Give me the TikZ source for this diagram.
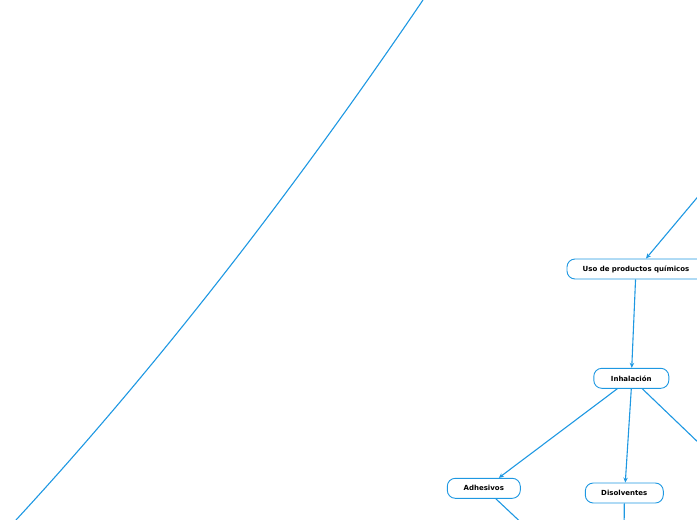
\documentclass[tikz,border=0pt]{standalone}
\usepackage{fontspec}
\setmainfont{DejaVu Sans}
\usetikzlibrary{arrows.meta}
\definecolor{bleucarte}{RGB}{30,152,226}

\begin{document}
\begin{tikzpicture}[x=1pt,y=-1pt,
    every node/.style={font=\bfseries\fontsize{7}{8}\selectfont},
    bulle/.style={draw=bleucarte,line width=0.9pt,fill=white,rounded corners=8pt,minimum height=20pt,inner sep=0pt},
    lien/.style={draw=bleucarte,line width=1.1pt,-{Stealth[length=5pt,width=4.5pt]}}]

\useasboundingbox (0,0) rectangle (697,520);
\clip (0,0) rectangle (697,520);
%%%%%%%%%%%%%%%%%%%%%%%%
%Les bulles de la carte
%%%%%%%%%%%%%%%%%%%%%%%%
    \node[bulle,minimum width=138pt] (uso) at (636,269) {Uso de productos químicos};
    \node[bulle,minimum width=75pt] (inhal) at (631.3,378.3) {Inhalación};
    \node[bulle,minimum width=73pt] (adhes) at (483.8,488.3) {Adhesivos};
    \node[bulle,minimum width=78pt] (disol) at (624.3,493) {Disolventes};

    % points hors du cadre (branches coupées)
    \coordinate (parent) at (748,137);
    \coordinate (droite) at (750,492);
    \coordinate (adhbas) at (545,545);
    \coordinate (disbas) at (624,545);
    \coordinate (hautcourbe) at (423,0);
    \coordinate (bascourbe) at (16,520);

%%%%%%%%%%%%%%%%%%%%%%%%
%Les liens
%%%%%%%%%%%%%%%%%%%%%%%%
    \draw[lien] (parent) -- ([xshift=10pt]uso.north);
    \draw[lien] (uso) -- (inhal);
    \draw[lien] ([xshift=-14pt]inhal.south) -- ([xshift=15pt]adhes.north);
    \draw[lien] (inhal.south) -- ([xshift=1pt]disol.north);
    \draw[lien] ([xshift=11pt]inhal.south) -- (droite);
    \draw[lien] ([xshift=12pt]adhes.south) -- (adhbas);
    \draw[lien] (disol.south) -- (disbas);
    % grande courbe à gauche
    \draw[bleucarte,line width=1.1pt] (hautcourbe) .. controls (288.3,198.3) and (152.7,371.7) .. (bascourbe);

\end{tikzpicture}
\end{document}
